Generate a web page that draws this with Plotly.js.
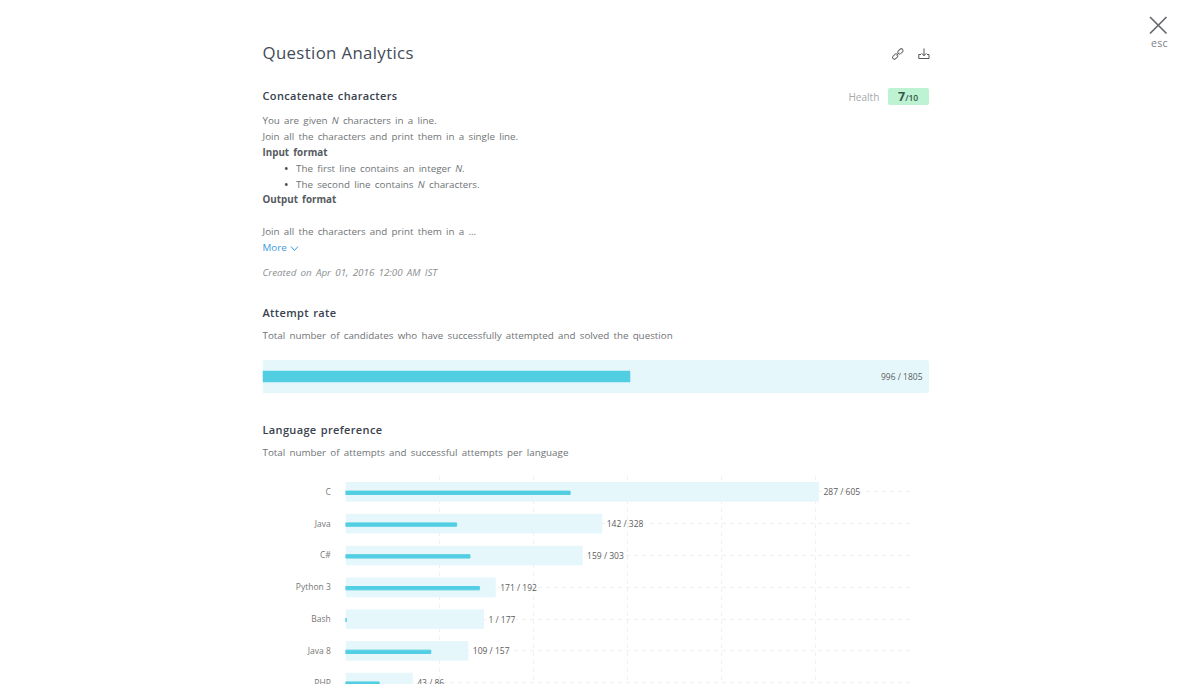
<!DOCTYPE html>
<html><head><meta charset="utf-8">
<script src="https://cdn.plot.ly/plotly-3.0.0.min.js"></script>
<style>
html,body{margin:0;padding:0;background:#fff;width:1200px;height:684px;overflow:hidden;font-family:"Open Sans",sans-serif}
#chart{position:absolute;left:0;top:0;width:1200px;height:684px}
.t{position:absolute;white-space:nowrap;line-height:16px;font-size:9.8px;color:#6f7377;letter-spacing:0;transform:translateY(-50%);word-spacing:1.7px}
.h{color:#39424e;font-size:11px;font-weight:600;letter-spacing:.35px;word-spacing:1px}
b{font-weight:700;color:#555a60}
i{font-style:italic}
svg.ic{position:absolute;overflow:visible}
</style></head><body>
<div id="chart"></div>
<div class="t" style="left:262.5px;top:53px;font-size:16.8px;line-height:24px;color:#434c57;letter-spacing:.36px;word-spacing:0">Question Analytics</div>
<div class="t h" style="left:262.5px;top:96px">Concatenate characters</div>
<div class="t" style="left:262.5px;top:120.5px">You are given <i>N</i> characters in a line.</div>
<div class="t" style="left:262.5px;top:136.5px">Join all the characters and print them in a single line.</div>
<div class="t" style="left:262.5px;top:152.5px"><b>Input format</b></div>
<div class="t" style="left:284px;top:168.5px;font-size:12px;color:#444">•</div>
<div class="t" style="left:296px;top:168.5px">The first line contains an integer <i>N</i>.</div>
<div class="t" style="left:284px;top:184.5px;font-size:12px;color:#444">•</div>
<div class="t" style="left:296px;top:184.5px">The second line contains <i>N</i> characters.</div>
<div class="t" style="left:262.5px;top:200px"><b>Output format</b></div>
<div class="t" style="left:262.5px;top:231.5px">Join all the characters and print them in a ...</div>
<div class="t" style="left:262.5px;top:247.5px;color:#3d9ae0">More</div>
<svg class="ic" style="left:290px;top:245px" width="9" height="7"><path d="M1 1.5 L4.5 5.5 L8 1.5" fill="none" stroke="#3d9ae0" stroke-width="1"/></svg>
<div class="t" style="left:262.5px;top:272.5px;color:#8b8f93"><i>Created on Apr 01, 2016 12:00 AM IST</i></div>
<div class="t h" style="left:262.5px;top:313px">Attempt rate</div>
<div class="t" style="left:262.5px;top:336px">Total number of candidates who have successfully attempted and solved the question</div>
<div class="t h" style="left:262.5px;top:429.5px">Language preference</div>
<div class="t" style="left:262.5px;top:452.5px">Total number of attempts and successful attempts per language</div>
<div class="t" style="left:848.5px;top:96.5px;color:#a4a8ac;word-spacing:0;font-size:10px">Health</div>
<div style="position:absolute;left:887.5px;top:88px;width:41.5px;height:17px;background:#bdf2d2;border-radius:2px"></div>
<div class="t" style="left:898px;top:96.5px;font-size:12.5px;font-weight:700;color:#39574a;letter-spacing:0;word-spacing:0">7<span style="font-size:8.5px;font-weight:600">/10</span></div>
<svg class="ic" style="left:892px;top:48px" width="12" height="12" fill="none" stroke="#666" stroke-width="1"><rect x="-3" y="-1.8" width="6" height="3.6" rx="1.8" transform="translate(3.2,8.6) rotate(-45)"/><rect x="-3" y="-1.8" width="6" height="3.6" rx="1.8" transform="translate(8.4,3.4) rotate(-45)"/><path d="M4.5 7.3 L7.2 4.7"/></svg>
<svg class="ic" style="left:918px;top:48px" width="12" height="12" fill="none" stroke="#555" stroke-width="1"><path d="M.8 6.5 V10.5 H11 V6.5 M3 6.5 H.8 M9 6.5 H11"/><path d="M6 .5 V7.5 M3.6 5.2 L6 7.8 L8.4 5.2"/></svg>
<svg class="ic" style="left:1149px;top:16px" width="19" height="19" stroke="#66696d" stroke-width="1.7"><path d="M1 1 L17.5 17.5 M17.5 1 L1 17.5"/></svg>
<div class="t" style="left:1151px;top:43px;color:#7d8185;letter-spacing:.3px;font-size:10.5px">esc</div>
<script>
var languages = ["C","Java","C#","Python 3","Bash","Java 8","PHP"];
var attempts  = [605,328,303,192,177,157,86];
var solved    = [287,142,159,171,1,109,43];
var gridVals  = [0,120,240,360,480,600,725];
var rateLabel = ["Attempt rate"];
var rateTotal = [1805];
var rateSolved = [996];

var labels = languages.map(function(_,i){return "\u2009"+solved[i]+" / "+attempts[i];});
var pale = "#e6f7fc", teal = "#52cee2";
var W = 1200, H = 684;
var data = [
 {type:"bar",orientation:"h",y:languages,x:attempts,width:0.62,marker:{color:pale},
  text:labels,textposition:"outside",cliponaxis:false,
  textfont:{family:"Open Sans",size:8.5,color:"#5c5c5c"},hoverinfo:"skip"},
 {type:"bar",orientation:"h",y:languages,x:solved,width:0.105,offset:-0.025,marker:{color:teal,line:{color:teal,width:1}},hoverinfo:"skip"},
 {type:"bar",orientation:"h",y:rateLabel,x:rateTotal,width:1,xaxis:"x2",yaxis:"y2",
  marker:{color:pale,cornerradius:3},hoverinfo:"skip"},
 {type:"bar",orientation:"h",y:rateLabel,x:rateSolved,width:0.35,xaxis:"x2",yaxis:"y2",
  marker:{color:teal,cornerradius:3},hoverinfo:"skip"}
];
var layout = {
 width:W,height:H,margin:{l:0,r:0,t:0,b:0,pad:0},
 paper_bgcolor:"rgba(0,0,0,0)",plot_bgcolor:"rgba(0,0,0,0)",
 barmode:"overlay",showlegend:false,
 xaxis:{domain:[345.5/W,913/W],range:[0,725],tickmode:"array",tickvals:gridVals,showticklabels:false,
  showgrid:true,gridcolor:"#f0f0f0",griddash:"4px,4px",gridwidth:1,zeroline:false,showline:false,ticks:"",anchor:"y"},
 yaxis:{domain:[0,1-476/H],range:[6.04,-0.5],type:"category",categoryorder:"array",categoryarray:languages,
  showgrid:true,gridcolor:"#f0f0f0",griddash:"4px,4px",gridwidth:1,zeroline:false,showline:false,
  ticks:"outside",ticklen:12,tickcolor:"rgba(0,0,0,0)",tickfont:{family:"Open Sans",size:8.5,color:"#777"},anchor:"x"},
 xaxis2:{domain:[262.5/W,929/W],range:[0,rateTotal[0]],visible:false,anchor:"y2"},
 yaxis2:{domain:[1-393/H,1-360/H],range:[-0.5,0.5],type:"category",visible:false,anchor:"x2"},
 annotations:[{xref:"x2",yref:"y2",x:rateTotal[0],y:0,xanchor:"right",xshift:-4,yanchor:"middle",showarrow:false,
  text:rateSolved[0]+" / "+rateTotal[0],font:{family:"Open Sans",size:8.5,color:"#5c5c5c"}}]
};
Plotly.newPlot("chart",data,layout,{displayModeBar:false,staticPlot:true});
</script>
</body></html>
